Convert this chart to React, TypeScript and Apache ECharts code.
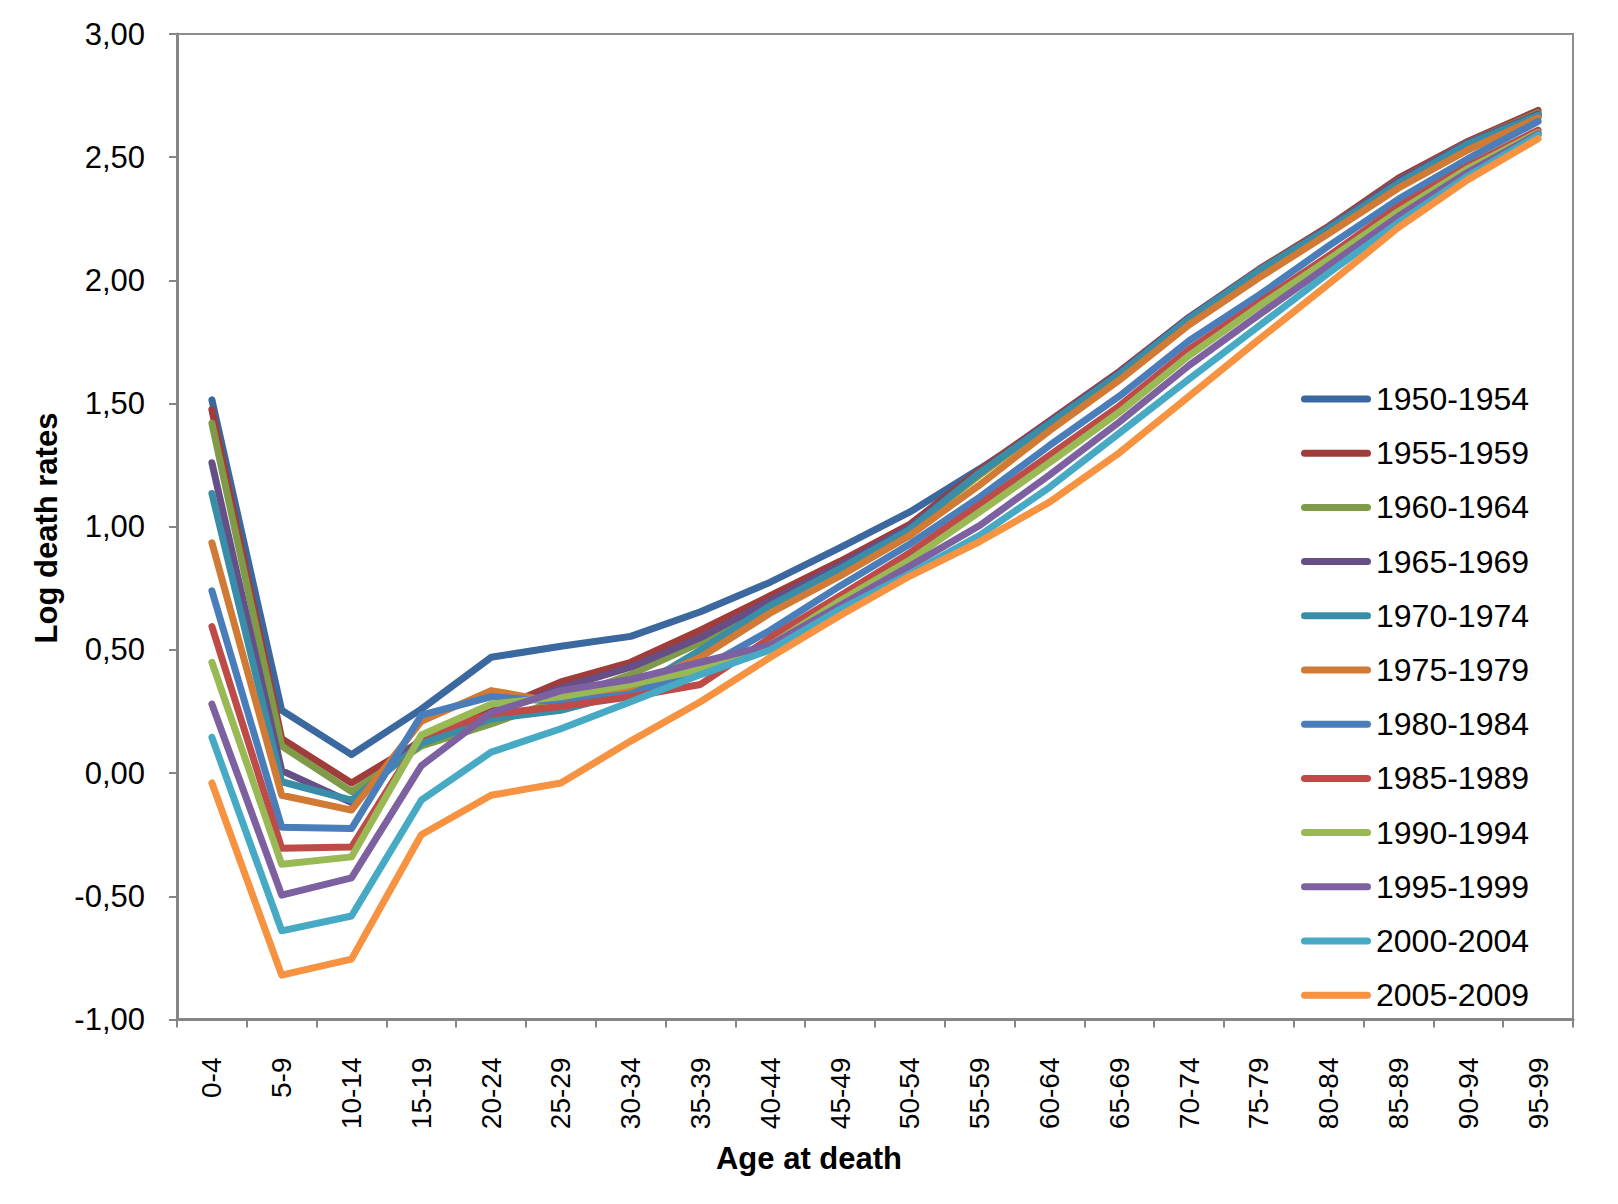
import React, { useEffect, useRef } from "react";
import * as echarts from "echarts";

// Age groups on the x axis
const ageGroups = [
  "0-4", "5-9", "10-14", "15-19", "20-24", "25-29", "30-34", "35-39", "40-44", "45-49",
  "50-54", "55-59", "60-64", "65-69", "70-74", "75-79", "80-84", "85-89", "90-94", "95-99",
];

// Periods (one line each)
const periods = [
  "1950-1954", "1955-1959", "1960-1964", "1965-1969", "1970-1974", "1975-1979",
  "1980-1984", "1985-1989", "1990-1994", "1995-1999", "2000-2004", "2005-2009",
];

// Log death rates by age group, one array per period
const r1950 = [1.515, 0.255, 0.075, 0.26, 0.47, 0.515, 0.555, 0.655, 0.775, 0.915, 1.06, 1.235, 1.42, 1.62, 1.84, 2.035, 2.21, 2.4, 2.555, 2.67];
const r1955 = [1.475, 0.14, -0.04, 0.13, 0.25, 0.37, 0.45, 0.58, 0.72, 0.86, 1.01, 1.23, 1.43, 1.63, 1.85, 2.045, 2.22, 2.415, 2.565, 2.69];
const r1960 = [1.42, 0.11, -0.075, 0.11, 0.2, 0.3, 0.4, 0.53, 0.69, 0.83, 0.99, 1.21, 1.42, 1.62, 1.845, 2.04, 2.215, 2.405, 2.56, 2.68];
const r1965 = [1.26, 0.01, -0.12, 0.14, 0.24, 0.345, 0.43, 0.55, 0.7, 0.845, 1.0, 1.22, 1.425, 1.625, 1.85, 2.04, 2.215, 2.405, 2.56, 2.675];
const r1970 = [1.135, -0.035, -0.11, 0.12, 0.22, 0.255, 0.33, 0.5, 0.68, 0.83, 0.99, 1.22, 1.42, 1.62, 1.845, 2.04, 2.21, 2.395, 2.555, 2.67];
const r1975 = [0.935, -0.09, -0.15, 0.21, 0.335, 0.285, 0.35, 0.47, 0.65, 0.8, 0.965, 1.17, 1.39, 1.595, 1.82, 2.01, 2.19, 2.375, 2.53, 2.66];
const r1980 = [0.74, -0.22, -0.225, 0.235, 0.31, 0.29, 0.32, 0.42, 0.58, 0.76, 0.93, 1.12, 1.33, 1.53, 1.755, 1.94, 2.14, 2.33, 2.495, 2.645];
const r1985 = [0.595, -0.305, -0.3, 0.15, 0.24, 0.27, 0.31, 0.36, 0.55, 0.72, 0.895, 1.09, 1.29, 1.49, 1.72, 1.91, 2.1, 2.3, 2.465, 2.61];
const r1990 = [0.45, -0.37, -0.34, 0.155, 0.28, 0.31, 0.36, 0.42, 0.52, 0.7, 0.865, 1.06, 1.26, 1.465, 1.695, 1.895, 2.085, 2.28, 2.455, 2.6];
const r1995 = [0.28, -0.495, -0.425, 0.03, 0.245, 0.335, 0.38, 0.45, 0.52, 0.68, 0.84, 1.005, 1.21, 1.425, 1.655, 1.86, 2.06, 2.26, 2.44, 2.595];
const r2000 = [0.145, -0.64, -0.58, -0.11, 0.085, 0.18, 0.29, 0.4, 0.5, 0.665, 0.81, 0.965, 1.16, 1.38, 1.6, 1.815, 2.03, 2.235, 2.425, 2.59];
const r2005 = [-0.04, -0.82, -0.755, -0.25, -0.09, -0.04, 0.13, 0.29, 0.47, 0.64, 0.8, 0.94, 1.1, 1.3, 1.53, 1.76, 1.985, 2.215, 2.41, 2.575];

const rates = [r1950, r1955, r1960, r1965, r1970, r1975, r1980, r1985, r1990, r1995, r2000, r2005];

const lineColors = [
  "#3B689F", "#A03C3A", "#7F9A48", "#664F86", "#3A8DA6", "#D07A35",
  "#4A7EBB", "#BE4B48", "#98B954", "#7D60A0", "#46AAC5", "#F69240",
];

const yTicks = { min: -1, max: 3, step: 0.5 };

const FONT = "Liberation Sans";

export default function App() {
  const ref = useRef<HTMLDivElement>(null);

  useEffect(() => {
    if (!ref.current) return;
    const chart = echarts.init(ref.current, null, { renderer: "svg" });

    const series = periods.map((name, i) => ({
      name,
      type: "line",
      data: rates[i],
      symbol: "none",
      smooth: false,
      lineStyle: { color: lineColors[i], width: 7, cap: "round", join: "round" },
      itemStyle: { color: lineColors[i] },
    }));

    chart.setOption({
      animation: false,
      backgroundColor: "#ffffff",
      grid: {
        left: 177,
        top: 34,
        width: 1396,
        height: 985.5,
        show: true,
        borderColor: "#8c8c8c",
        borderWidth: 2,
        containLabel: false,
      },
      legend: {
        orient: "vertical",
        left: 1296,
        top: 376,
        itemWidth: 70,
        itemHeight: 7,
        itemGap: 18.2,
        icon: "path://M3.5,0 L66.5,0 A3.5,3.5 0 0 1 66.5,7 L3.5,7 A3.5,3.5 0 0 1 3.5,0 Z",
        textStyle: { fontFamily: FONT, fontSize: 32, color: "#000", lineHeight: 36, padding: [0, 0, 0, 0] },
        data: periods,
      },
      xAxis: {
        type: "category",
        data: ageGroups,
        boundaryGap: true,
        axisLine: { show: true, onZero: false, lineStyle: { color: "#868686", width: 3 } },
        axisTick: { show: true, alignWithLabel: false, length: 8, lineStyle: { color: "#868686", width: 2 } },
        axisLabel: {
          rotate: 90,
          margin: 38,
          fontFamily: FONT,
          fontSize: 28,
          color: "#000",
          interval: 0,
        },
        splitLine: { show: false },
      },
      yAxis: {
        type: "value",
        min: yTicks.min,
        max: yTicks.max,
        interval: yTicks.step,
        axisLine: { show: true, lineStyle: { color: "#868686", width: 3 } },
        axisTick: { show: true, length: 8, lineStyle: { color: "#868686", width: 2 } },
        axisLabel: {
          margin: 32,
          fontFamily: FONT,
          fontSize: 31,
          color: "#000",
          formatter: (v: number) => v.toFixed(2).replace(".", ","),
        },
        splitLine: { show: false },
      },
      graphic: [
        {
          type: "text",
          x: 46,
          y: 528,
          rotation: Math.PI / 2,
          style: {
            text: "Log death rates",
            fontFamily: FONT,
            fontWeight: "bold",
            fontSize: 31,
            fill: "#000",
            align: "center",
            verticalAlign: "middle",
          },
        },
        {
          type: "text",
          x: 809,
          y: 1158,
          style: {
            text: "Age at death",
            fontFamily: FONT,
            fontWeight: "bold",
            fontSize: 31,
            fill: "#000",
            align: "center",
            verticalAlign: "middle",
          },
        },
      ],
      series,
    });

    return () => chart.dispose();
  }, []);

  return (
    <div
      ref={ref}
      style={{ position: "fixed", left: 0, top: 0, width: 1618, height: 1204, background: "#fff" }}
    />
  );
}
